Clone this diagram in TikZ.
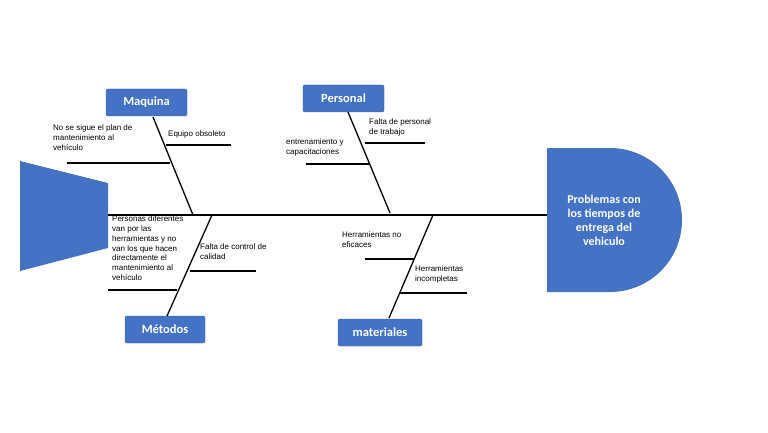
\documentclass[tikz,border=0pt]{standalone}
\usepackage{fontspec}
\setmainfont{Liberation Sans}
\newfontfamily\boxfont{Carlito}
\definecolor{fbblue}{HTML}{4472C4}
\begin{document}
\begin{tikzpicture}[x=1pt,y=-1pt,
  catbox/.style={fill=fbblue,draw=fbblue!80!black,rounded corners=2pt,text=white,font=\boxfont\bfseries\fontsize{12.5}{14}\selectfont,minimum height=27pt,inner sep=0pt},
  lbl/.style={anchor=north west,align=left,inner sep=0pt,font=\fontsize{8}{10}\selectfont},
  bone/.style={line width=1.3pt}]
\useasboundingbox (0,0) rectangle (768,433);
% tail
\fill[fbblue] (20,161) -- (108,183) -- (108,248) -- (20,271) -- cycle;
% head
\fill[fbblue] (547,148) -- (610,148) arc[start angle=-90,end angle=90,radius=72] -- (547,292) -- cycle;
\node[text=white,align=center,font=\boxfont\bfseries\fontsize{12}{14}\selectfont] (head) at (604,220) {Problemas con\\los tiempos de\\entrega del\\vehiculo};
\coordinate (tail) at (108,215);
\coordinate (sp) at (547,215);
\draw[bone] (tail) -- (sp);
% category boxes
\node[catbox,minimum width=81pt] (maq) at (146.5,102.5) {Maquina};
\node[catbox,minimum width=80pt] (met) at (165,329.5) {Métodos};
\node[catbox,minimum width=81pt] (per) at (343.5,98.5) {Personal};
\node[catbox,minimum width=84pt] (mat) at (380,332.5) {materiales};
\coordinate (j1) at (193,215);
\coordinate (j2) at (212,215);
\coordinate (j3) at (390,213);
\coordinate (j4) at (433,215);
\draw[bone] (153,117) -- (j1);
\draw[bone] (j2) -- (167,316);
\draw[bone] (348,112) -- (j3);
\draw[bone] (j4) -- (389,318);
% sub-bones
\coordinate (a1) at (166,145); \coordinate (a2) at (231,145);
\draw[bone] (a1) -- (a2);
\coordinate (b1) at (67,163); \coordinate (b2) at (170,163);
\draw[bone] (b1) -- (b2);
\coordinate (c1) at (190,271); \coordinate (c2) at (256,271);
\draw[bone] (c1) -- (c2);
\coordinate (d1) at (108,290); \coordinate (d2) at (177,290);
\draw[bone] (d1) -- (d2);
\coordinate (e1) at (365,143); \coordinate (e2) at (425,143);
\draw[bone] (e1) -- (e2);
\coordinate (f1) at (306,164); \coordinate (f2) at (369,164);
\draw[bone] (f1) -- (f2);
\coordinate (g1) at (365,259); \coordinate (g2) at (414,259);
\draw[bone] (g1) -- (g2);
\coordinate (h1) at (400,293); \coordinate (h2) at (467,293);
\draw[bone] (h1) -- (h2);
% labels
\node[lbl] (t1) at (168,131) {Equipo obsoleto};
\node[lbl] (t2) at (53,125) {No se sigue el plan de\\mantenimiento al\\vehículo};
\node[lbl] (t3) at (200,244) {Falta de control de\\calidad};
\node[lbl,font=\fontsize{8}{9.7}\selectfont] (t4) at (112,216) {Personas diferentes\\van por las\\herramientas y  no\\van los que hacen\\directamente el\\mantenimiento al\\vehículo};
\node[lbl] (t5) at (369,119) {Falta de personal\\de trabajo};
\node[lbl] (t6) at (286,139) {entrenamiento y\\capacitaciones};
\node[lbl] (t7) at (342,232) {Herramientas no\\eficaces};
\node[lbl] (t8) at (415,266) {Herramientas\\incompletas};
\end{tikzpicture}
\end{document}
